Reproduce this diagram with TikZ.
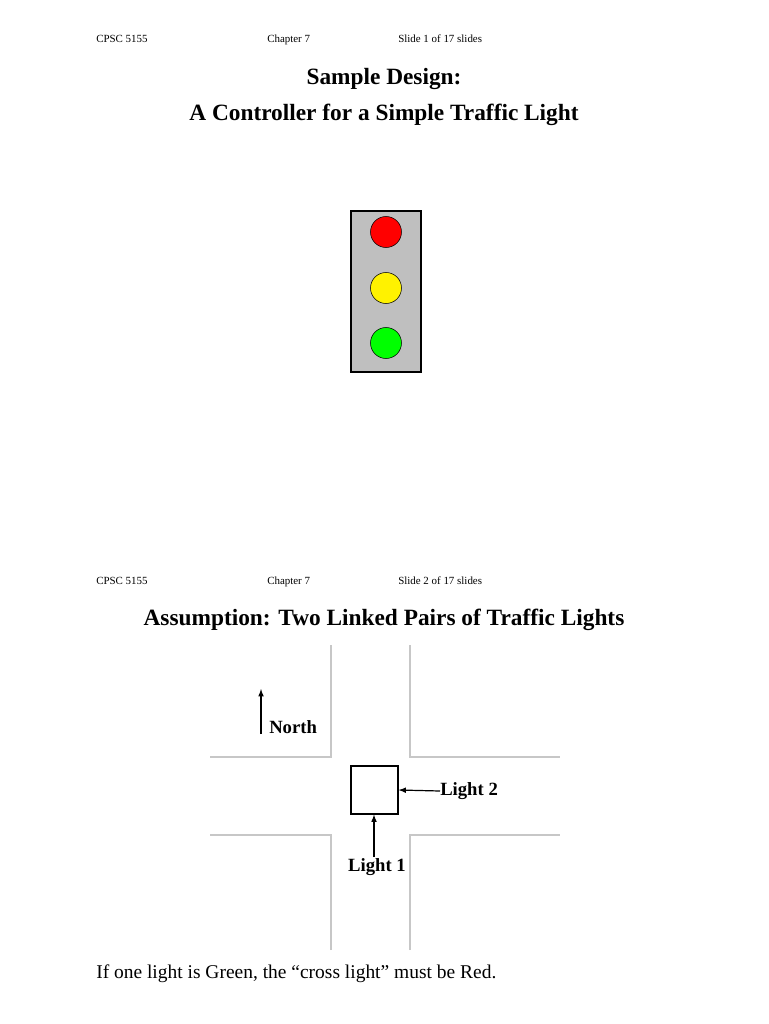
\documentclass[tikz,border=0pt]{standalone}
\usepackage{fontspec}
\setmainfont{Liberation Serif}
\begin{document}
\begin{tikzpicture}[x=0.75pt,y=-0.75pt,
  hdr/.style={anchor=base west,font=\fontsize{8.2}{9}\selectfont,inner sep=0},
  ttl/.style={font=\fontsize{17.5}{20}\selectfont\bfseries,inner sep=0},
  road/.style={draw=black!22,line width=1pt},
  lbl/.style={font=\fontsize{14}{16}\selectfont\bfseries,inner sep=0},
  arr/.style={-latex,line width=0.9pt}]
\useasboundingbox (0,0) rectangle (768,1024);
% slide 1
\node[hdr] (h1a) at (96,43) {CPSC 5155};
\node[hdr] (h1b) at (267,43) {Chapter 7};
\node[hdr] (h1c) at (398,43) {Slide 1 of 17 slides};
\node[ttl] (t1) at (384,79) {Sample Design:};
\node[ttl] (t2) at (384,115) {A Controller for a Simple Traffic Light};
\draw[fill=black!25,line width=0.8pt] (351,211) rectangle (421,372);
\draw[fill=red] (386,232) circle (15.5);
\draw[fill=yellow] (386,288) circle (15.5);
\draw[fill=green] (386,343) circle (15.5);
% slide 2
\node[hdr] (h2a) at (96,584) {CPSC 5155};
\node[hdr] (h2b) at (267,584) {Chapter 7};
\node[hdr] (h2c) at (398,584) {Slide 2 of 17 slides};
\node[ttl] (t3) at (384,620) {Assumption: Two Linked Pairs of Traffic Lights};
\draw[road] (331,645) -- (331,757) -- (210,757);
\draw[road] (410,645) -- (410,757) -- (560,757);
\draw[road] (331,950) -- (331,835) -- (210,835);
\draw[road] (410,950) -- (410,835) -- (560,835);
\node[draw,line width=0.8pt,minimum width=47*0.75pt,minimum height=48*0.75pt,inner sep=0] (box) at (374.5,790) {};
\coordinate (nb) at (261,734);
\coordinate (nt) at (261,689);
\draw[arr] (nb) -- (nt);
\node[lbl,anchor=west] (north) at (269,727) {North};
\node[lbl,anchor=west] (l2) at (440,791) {Light 2};
\draw[arr] (l2.west) -- (box.east);
\node[lbl] (l1) at (377,867) {Light 1};
\draw[arr] (374,857) -- (box.south -| 374,0);
\node[anchor=west,inner sep=0,font=\fontsize{14.6}{17}\selectfont] (txt) at (96,974) {If one light is Green, the “cross light” must be Red.};
\end{tikzpicture}
\end{document}
